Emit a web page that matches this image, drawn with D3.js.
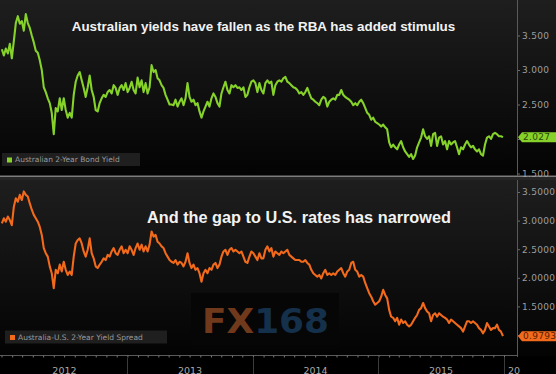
<!DOCTYPE html>
<meta charset="utf-8">
<script src="https://cdn.jsdelivr.net/npm/d3@7"></script>
<style>
  body { margin: 0; background: #000; }
  text { font-family: "DejaVu Sans", sans-serif; }
</style>
<body>
<div id="chart"></div>
<script>

var width = 556
var height = 374
var plotRight = 517

// first and last observation, the series are sampled evenly in between
var firstDate = "2012-01-02"
var lastDate = "2015-12-29"
var years = ["2012", "2013", "2014", "2015", "2016"]
var yieldTicks = [1.5, 2.0, 2.5, 3.0, 3.5]
var spreadTicks = [1.0, 1.5, 2.0, 2.5, 3.0, 3.5]
var lastYield = 2.027
var lastSpread = 0.9793

// Australian 2-year bond yield (%)
var auYield = [
  3.30, 3.21, 3.31, 3.24, 3.38, 3.17, 3.42, 3.68, 3.78, 3.67,
  3.71, 3.57, 3.81, 3.68, 3.61, 3.50, 3.40, 3.28, 3.25, 3.14,
  3.00, 2.75, 2.68, 2.59, 2.52, 2.38, 2.07, 2.45, 2.40, 2.59,
  2.42, 2.59, 2.42, 2.31, 2.38, 2.31, 2.64, 2.83, 2.92, 2.97,
  2.85, 2.74, 2.61, 2.75, 2.92, 2.71, 2.61, 2.42, 2.40, 2.52,
  2.59, 2.64, 2.61, 2.68, 2.71, 2.66, 2.78, 2.74, 2.64, 2.74,
  2.78, 2.71, 2.81, 2.68, 2.74, 2.83, 2.71, 2.66, 2.89, 2.75,
  2.85, 2.68, 2.81, 2.66, 2.75, 3.07, 2.97, 3.00, 2.88, 2.85,
  2.78, 2.74, 2.64, 2.57, 2.50, 2.50, 2.49, 2.57, 2.47, 2.54,
  2.59, 2.49, 2.59, 2.81, 2.61, 2.54, 2.57, 2.49, 2.52, 2.40,
  2.31, 2.40, 2.47, 2.54, 2.47, 2.59, 2.66, 2.61, 2.52, 2.47,
  2.66, 2.75, 2.83, 2.71, 2.66, 2.78, 2.75, 2.78, 2.74, 2.75,
  2.71, 2.75, 2.61, 2.64, 2.75, 2.83, 2.85, 2.81, 2.68, 2.81,
  2.71, 2.66, 2.81, 2.85, 2.81, 2.83, 2.64, 2.78, 2.83, 2.85,
  2.83, 2.88, 2.90, 2.83, 2.81, 2.78, 2.75, 2.74, 2.71, 2.66,
  2.68, 2.64, 2.68, 2.74, 2.66, 2.59, 2.57, 2.54, 2.52, 2.49,
  2.57, 2.61, 2.59, 2.47, 2.54, 2.57, 2.59, 2.57, 2.64, 2.64,
  2.71, 2.64, 2.61, 2.59, 2.57, 2.54, 2.49, 2.52, 2.49, 2.54,
  2.57, 2.52, 2.45, 2.38, 2.35, 2.28, 2.31, 2.25, 2.23, 2.21,
  2.18, 2.21, 2.17, 2.14, 1.95, 1.88, 1.92, 1.88, 1.85, 1.92,
  1.97, 1.88, 1.82, 1.78, 1.74, 1.78, 1.71, 1.76, 1.88, 1.95,
  2.02, 2.14, 2.04, 2.00, 2.04, 1.90, 2.07, 2.09, 1.90, 2.02,
  2.04, 1.92, 1.97, 1.85, 1.97, 1.92, 1.95, 1.97, 1.88, 1.78,
  1.88, 1.85, 1.92, 1.97, 1.92, 1.88, 1.90, 1.85, 1.82, 1.85,
  1.78, 1.76, 1.92, 2.02, 2.04, 2.00, 2.07, 2.09, 2.07, 2.04,
  2.04, 2.027
]

// Australia - U.S. 2-year yield spread (pct points)
var auUsSpread = [
  2.95, 3.04, 2.98, 3.07, 3.01, 2.92, 3.24, 3.39, 3.33, 3.45,
  3.36, 3.51, 3.45, 3.42, 3.30, 3.19, 3.10, 3.04, 2.98, 2.89,
  2.75, 2.52, 2.43, 2.37, 2.20, 2.08, 1.82, 2.14, 2.08, 2.23,
  2.11, 2.28, 2.14, 2.05, 2.11, 2.05, 2.37, 2.60, 2.66, 2.69,
  2.60, 2.46, 2.37, 2.49, 2.69, 2.43, 2.34, 2.20, 2.17, 2.23,
  2.28, 2.34, 2.31, 2.40, 2.37, 2.46, 2.52, 2.43, 2.40, 2.49,
  2.55, 2.43, 2.49, 2.43, 2.55, 2.49, 2.40, 2.52, 2.60, 2.49,
  2.58, 2.46, 2.55, 2.46, 2.58, 2.81, 2.72, 2.75, 2.63, 2.60,
  2.55, 2.52, 2.43, 2.37, 2.31, 2.28, 2.26, 2.31, 2.23, 2.28,
  2.26, 2.20, 2.28, 2.43, 2.26, 2.17, 2.23, 2.14, 2.17, 2.08,
  1.93, 2.08, 2.14, 2.08, 2.17, 2.14, 2.23, 2.26, 2.17, 2.23,
  2.37, 2.46, 2.49, 2.40, 2.49, 2.52, 2.46, 2.49, 2.46, 2.43,
  2.46, 2.37, 2.28, 2.26, 2.37, 2.46, 2.43, 2.37, 2.31, 2.43,
  2.34, 2.34, 2.49, 2.55, 2.46, 2.52, 2.37, 2.46, 2.43, 2.40,
  2.46, 2.43, 2.46, 2.49, 2.40, 2.37, 2.34, 2.31, 2.31, 2.31,
  2.28, 2.28, 2.31, 2.26, 2.23, 2.14, 2.08, 2.05, 2.02, 2.05,
  1.99, 2.08, 2.14, 2.05, 2.08, 2.05, 2.08, 2.05, 2.11, 2.14,
  2.17, 2.08, 2.02, 2.11, 2.14, 2.26, 2.28, 2.14, 2.11, 2.02,
  2.05, 2.02, 1.91, 1.82, 1.73, 1.67, 1.59, 1.53, 1.56, 1.59,
  1.67, 1.79, 1.70, 1.64, 1.44, 1.32, 1.30, 1.24, 1.30, 1.18,
  1.27, 1.21, 1.24, 1.18, 1.15, 1.18, 1.24, 1.30, 1.35, 1.44,
  1.47, 1.56, 1.47, 1.41, 1.38, 1.24, 1.35, 1.38, 1.32, 1.38,
  1.35, 1.32, 1.30, 1.27, 1.21, 1.27, 1.24, 1.21, 1.18, 1.15,
  1.12, 1.06, 1.15, 1.24, 1.24, 1.21, 1.24, 1.21, 1.18, 1.12,
  1.09, 1.03, 1.09, 1.21, 1.15, 1.09, 1.12, 1.12, 1.18, 1.09,
  1.06, 0.9793
]

var green = "#86d22a"
var orange = "#f26a1b"

var parse = d3.timeParse("%Y-%m-%d")
var t0 = parse(firstDate), t1 = parse(lastDate)
var obsDates = auYield.map(function(d, i){
  return new Date(+t0 + (t1 - t0) * i / (auYield.length - 1))
})

var svg = d3.select("#chart")
  .append("svg")
    .attr("width", width)
    .attr("height", height)
    .style("display", "block")

var defs = svg.append("defs")
var grad = defs.append("linearGradient")
    .attr("id", "bg")
    .attr("x1", 0).attr("y1", 0).attr("x2", 0).attr("y2", 1)
grad.append("stop").attr("offset", "0%").attr("stop-color", "#1e1e1e")
grad.append("stop").attr("offset", "100%").attr("stop-color", "#030303")

defs.append("clipPath").attr("id", "clipTop")
  .append("rect").attr("x", 0).attr("y", 0).attr("width", plotRight).attr("height", 176)
defs.append("clipPath").attr("id", "clipBot")
  .append("rect").attr("x", 0).attr("y", 180).attr("width", plotRight).attr("height", 175)
defs.append("clipPath").attr("id", "clipYear")
  .append("rect").attr("x", 0).attr("y", 356).attr("width", 520).attr("height", 18)

var x = d3.scaleTime()
  .domain([new Date(2012, 0, 1), new Date(2016, 0, 1)])
  .range([1.5, 504])

var yTop = d3.scaleLinear().domain([1.5, 3.5]).range([173.5, 35.5])
var yBot = d3.scaleLinear().domain([1.0, 3.5]).range([335, 192])

// panel backgrounds
svg.append("rect").attr("x", 0).attr("y", 0).attr("width", width).attr("height", 176)
  .attr("fill", "url(#bg)")
svg.append("rect").attr("x", 0).attr("y", 180).attr("width", width).attr("height", 176)
  .attr("fill", "url(#bg)")
svg.append("rect").attr("x", 0).attr("y", 175.5).attr("width", width).attr("height", 1.5)
  .attr("fill", "#7c7c7c")
svg.append("rect").attr("x", 0).attr("y", 177).attr("width", width).attr("height", 3)
  .attr("fill", "#262626")

// watermark
svg.append("rect")
  .attr("x", 191).attr("y", 293).attr("width", 148).attr("height", 52)
  .attr("fill", "#060606")
var wm = svg.append("text")
  .attr("x", 202).attr("y", 333)
  .attr("textLength", 127)
  .attr("lengthAdjust", "spacingAndGlyphs")
  .style("font-family", "'DejaVu Sans', sans-serif")
  .style("font-weight", "bold")
  .style("font-size", "33px")
wm.append("tspan").attr("fill", "#70391c").text("FX")
wm.append("tspan").attr("fill", "#15304a").text("168")

// right axes, the label under the last-value tag is hidden
function rightAxis(scale, ticks, fmt, y0, y1, lastVal) {
  var g = svg.append("g").attr("transform", "translate(" + plotRight + ",0)")
  var quarters = d3.range(ticks[0], ticks[ticks.length - 1] + 0.26, 0.25)
  g.call(d3.axisRight(scale).tickValues(quarters).tickSize(2).tickFormat(""))
  g.call(d3.axisRight(scale).tickValues(ticks).tickSize(3).tickPadding(2).tickFormat(d3.format(fmt)))
  g.selectAll(".domain").remove()
  g.selectAll("line").attr("stroke", "#6a6a6a")
  g.selectAll("text")
    .attr("fill", "#9e9e9e")
    .style("font-size", "9px")
    .style("letter-spacing", "0.3px")
    .filter(function(d){ return Math.abs(scale(d) - scale(lastVal)) < 9 })
    .remove()
  g.append("line").attr("x1", 0.5).attr("x2", 0.5).attr("y1", y0).attr("y2", y1)
    .attr("stroke", "#5a5a5a")
}
rightAxis(yTop, yieldTicks, ".3f", 0, 176, lastYield)
rightAxis(yBot, spreadTicks, ".4f", 180, 357, lastSpread)

// bottom time axis
var xg = svg.append("g").attr("transform", "translate(0,355.5)")
xg.call(d3.axisBottom(x).ticks(d3.timeMonth.every(1)).tickSize(2).tickFormat(""))
xg.selectAll(".domain").attr("stroke", "#5a5a5a").attr("d", "M0,0H" + plotRight)
xg.selectAll("line").attr("stroke", "#777")

svg.selectAll(".yearsep")
  .data(years.slice(1))
  .enter()
  .append("line")
    .attr("x1", function(d){ return Math.round(x(parse(d + "-01-01"))) + 0.5 })
    .attr("x2", function(d){ return Math.round(x(parse(d + "-01-01"))) + 0.5 })
    .attr("y1", 358).attr("y2", 374)
    .attr("stroke", "#3c3c3c")

svg.append("g").attr("clip-path", "url(#clipYear)")
  .selectAll("text")
  .data(years)
  .enter()
  .append("text")
    .attr("x", function(d, i){
      return i < years.length - 1 ? x(parse(d + "-07-02")) : x(parse(d + "-01-01")) + 4
    })
    .attr("y", 373.5)
    .attr("text-anchor", function(d, i){ return i < years.length - 1 ? "middle" : "start" })
    .attr("fill", "#a8a8a8")
    .style("font-size", "9.5px")
    .text(function(d){ return d })

// series lines
var lineTop = d3.line()
  .x(function(d, i){ return x(obsDates[i]) })
  .y(function(d){ return yTop(d) })
var lineBot = d3.line()
  .x(function(d, i){ return x(obsDates[i]) })
  .y(function(d){ return yBot(d) })

svg.append("path")
  .attr("clip-path", "url(#clipTop)")
  .attr("d", lineTop(auYield))
  .attr("fill", "none")
  .attr("stroke", green)
  .attr("stroke-width", 2.1)
  .attr("stroke-linejoin", "round")

svg.append("path")
  .attr("clip-path", "url(#clipBot)")
  .attr("d", lineBot(auUsSpread))
  .attr("fill", "none")
  .attr("stroke", orange)
  .attr("stroke-width", 2.1)
  .attr("stroke-linejoin", "round")

// last value tags
function valueTag(cy, color, txt, textColor) {
  svg.append("path")
    .attr("d", "M" + (plotRight + 1) + "," + cy + "L" + (plotRight + 5) + "," + (cy - 5) +
      "H" + width + "V" + (cy + 5) + "H" + (plotRight + 5) + "Z")
    .attr("fill", color)
  svg.append("text")
    .attr("x", plotRight + 6).attr("y", cy)
    .attr("dy", "0.36em")
    .attr("fill", textColor)
    .style("font-size", "9px")
    .style("letter-spacing", "0.3px")
    .text(txt)
}
valueTag(yTop(lastYield), green, d3.format(".3f")(lastYield), "#2a4a05")
valueTag(yBot(lastSpread), orange, d3.format(".4f")(lastSpread), "#5a2000")

// legends
function legend(x0, y0, w, color, label) {
  svg.append("rect").attr("x", x0).attr("y", y0).attr("width", w).attr("height", 13)
    .attr("fill", "#1f1f1f")
  svg.append("rect").attr("x", x0 + 5).attr("y", y0 + 4.5).attr("width", 5).attr("height", 5)
    .attr("fill", color)
  svg.append("text")
    .attr("x", x0 + 13).attr("y", y0 + 6.5)
    .attr("dy", "0.35em")
    .attr("fill", "#9a9a9a")
    .style("font-size", "7.5px")
    .text(label)
}
legend(2, 153, 138, green, "Australian 2-Year Bond Yield")
legend(5, 330.5, 162, orange, "Australia-U.S. 2-Year Yield Spread")

// titles
svg.append("text")
  .attr("x", 263.5).attr("y", 30.7)
  .attr("text-anchor", "middle")
  .attr("fill", "#f2f2f2")
  .style("font-family", "'Liberation Sans', Arial, sans-serif")
  .style("font-weight", "bold")
  .style("font-size", "13.4px")
  .text("Australian yields have fallen as the RBA has added stimulus")

svg.append("text")
  .attr("x", 299).attr("y", 223)
  .attr("text-anchor", "middle")
  .attr("fill", "#f2f2f2")
  .style("font-family", "'Liberation Sans', Arial, sans-serif")
  .style("font-weight", "bold")
  .style("font-size", "16.3px")
  .text("And the gap to U.S. rates has narrowed")

</script>
</body>
